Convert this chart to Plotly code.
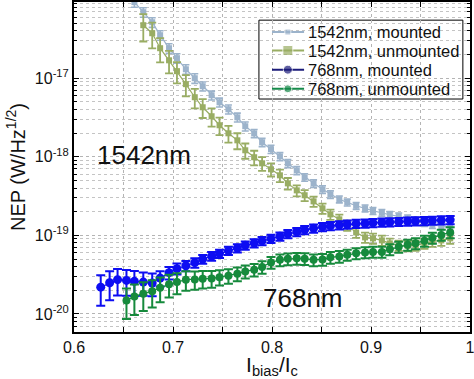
import plotly.graph_objects as go

# common bias grid (I_bias / I_c)
x_grid = [0.627, 0.636, 0.644, 0.653, 0.661, 0.670, 0.679, 0.687, 0.696, 0.704,
          0.713, 0.722, 0.730, 0.739, 0.747, 0.756, 0.765, 0.773, 0.782, 0.790,
          0.799, 0.808, 0.816, 0.825, 0.833, 0.842, 0.851, 0.859, 0.868, 0.876,
          0.885, 0.894, 0.902, 0.911, 0.919, 0.928, 0.937, 0.945, 0.954, 0.962,
          0.971, 0.980]

# 1542nm, mounted (starts at grid index 4)
nep_1542_mounted = [9.29e-17, 6.93e-17, 5.16e-17, 3.53e-17, 2.41e-17, 1.80e-17, 1.30e-17,
                    1.0e-17, 7.91e-18, 6.07e-18, 4.94e-18, 4.03e-18, 3.18e-18, 2.45e-18,
                    1.99e-18, 1.53e-18, 1.25e-18, 1.01e-18, 8.26e-19, 6.73e-19, 5.48e-19,
                    4.59e-19, 3.85e-19, 3.32e-19, 2.88e-19, 2.63e-19, 2.38e-19, 2.21e-19,
                    2.05e-19, 1.94e-19, 1.82e-19, 1.75e-19, 1.65e-19, 1.55e-19, 1.44e-19,
                    1.36e-19, 1.30e-19, 1.26e-19]
err_1542_mounted = [0.14, 0.14, 0.14, 0.14, 0.14, 0.14, 0.14, 0.14, 0.13, 0.13,
                    0.13, 0.13, 0.13, 0.13, 0.12, 0.12, 0.12, 0.12, 0.12, 0.12, 0.11,
                    0.11, 0.11, 0.11, 0.10, 0.10, 0.10, 0.10, 0.10, 0.10, 0.10, 0.10,
                    0.10, 0.10, 0.10, 0.10, 0.10, 0.10]

# 1542nm, unmounted (starts at grid index 5)
nep_1542_unmounted = [4.73e-17, 3.74e-17, 2.41e-17, 1.69e-17, 1.23e-17, 8.40e-18, 5.73e-18,
                      4.27e-18, 3.28e-18, 2.52e-18, 1.99e-18, 1.62e-18, 1.21e-18, 9.87e-19,
                      8.26e-19, 6.93e-19, 5.81e-19, 4.59e-19, 3.74e-19, 3.24e-19, 2.71e-19,
                      2.21e-19, 1.85e-19, 1.60e-19, 1.34e-19, 1.09e-19, 9.43e-20, 9.16e-20,
                      8.63e-20, 7.91e-20, 7.46e-20, 7.35e-20, 7.46e-20, 7.91e-20, 8.39e-20,
                      8.63e-20, 9.16e-20]
err_1542_unmounted = [0.38, 0.36, 0.34, 0.32, 0.30, 0.30, 0.28, 0.27, 0.26, 0.25, 0.24,
                      0.23, 0.22, 0.21, 0.20, 0.19, 0.18, 0.17, 0.16, 0.16, 0.15, 0.15,
                      0.15, 0.15, 0.15, 0.15, 0.15, 0.15, 0.15, 0.15, 0.15, 0.15, 0.15,
                      0.15, 0.15, 0.15, 0.15]

# 768nm, mounted (starts at grid index 0)
nep_768_mounted = [2.19e-20, 2.49e-20, 2.73e-20, 2.67e-20, 2.60e-20, 2.54e-20, 2.47e-20,
                   2.86e-20, 3.35e-20, 3.77e-20, 4.11e-20, 4.49e-20, 4.99e-20, 5.45e-20,
                   5.85e-20, 6.38e-20, 6.89e-20, 7.46e-20, 7.98e-20, 8.51e-20, 9.08e-20,
                   9.71e-20, 1.045e-19, 1.11e-19, 1.175e-19, 1.23e-19, 1.28e-19, 1.32e-19,
                   1.35e-19, 1.38e-19, 1.41e-19, 1.42e-19, 1.44e-19, 1.46e-19, 1.47e-19,
                   1.49e-19, 1.51e-19, 1.52e-19, 1.53e-19, 1.545e-19, 1.56e-19, 1.575e-19]
err_768_mounted = [0.42, 0.40, 0.37, 0.36, 0.35, 0.33, 0.32, 0.22, 0.18, 0.16, 0.15,
                   0.14, 0.13, 0.13, 0.12, 0.12, 0.12, 0.12, 0.12, 0.12, 0.12, 0.12,
                   0.12, 0.12, 0.12, 0.12, 0.12, 0.12, 0.12, 0.12, 0.12, 0.12, 0.12,
                   0.12, 0.12, 0.12, 0.12, 0.12, 0.12, 0.12, 0.12, 0.12]

# 768nm, unmounted (starts at grid index 3)
nep_768_unmounted = [1.486e-20, 1.67e-20, 1.81e-20, 1.95e-20, 2.16e-20, 2.38e-20, 2.54e-20,
                     2.73e-20, 2.75e-20, 2.81e-20, 2.83e-20, 2.94e-20, 3.07e-20, 3.25e-20,
                     3.48e-20, 3.66e-20, 3.97e-20, 4.53e-20, 4.88e-20, 5.02e-20, 5.10e-20,
                     5.05e-20, 4.88e-20, 4.94e-20, 5.25e-20, 5.40e-20, 5.65e-20, 5.90e-20,
                     6.07e-20, 6.16e-20, 6.16e-20, 6.64e-20, 7.14e-20, 7.57e-20, 7.91e-20,
                     8.51e-20, 9.29e-20, 1.014e-19, 1.09e-19]
err_768_unmounted = [0.42, 0.42, 0.40, 0.38, 0.35, 0.32, 0.30, 0.28, 0.26, 0.25, 0.24,
                     0.22, 0.21, 0.20, 0.19, 0.18, 0.18, 0.17, 0.17, 0.17, 0.17, 0.17,
                     0.17, 0.17, 0.17, 0.17, 0.16, 0.16, 0.16, 0.16, 0.16, 0.16, 0.16,
                     0.16, 0.16, 0.16, 0.16, 0.16, 0.16]

y_tickvals = [1e-20, 1e-19, 1e-18, 1e-17]
y_ticktext = ["10<sup>-20</sup>", "10<sup>-19</sup>", "10<sup>-18</sup>", "10<sup>-17</sup>"]
y_minor_vals = [m * d for d in [1e-21, 1e-20, 1e-19, 1e-18, 1e-17] for m in [2, 3, 4, 5, 6, 7, 8, 9]]
x_tickvals = [0.6, 0.65, 0.7, 0.75, 0.8, 0.85, 0.9, 0.95, 1.0]
x_ticktext = ["0.6", "", "0.7", "", "0.8", "", "0.9", "", "1"]

series = [
    ("1542nm, mounted", 4, nep_1542_mounted, err_1542_mounted, "#9cb3cb", "square", 6, 1.6, 3.5, "#9cb3cb", 6),
    ("1542nm, unmounted", 5, nep_1542_unmounted, err_1542_unmounted, "#99ad63", "square", 6, 1.8, 4, "#99ad63", 10),
    ("768nm, mounted", 0, nep_768_mounted, err_768_mounted, "#0d0df2", "circle", 9, 2, 4.5, "#1c1c7a", 9),
    ("768nm, unmounted", 3, nep_768_unmounted, err_768_unmounted, "#168a3c", "circle", 8, 2, 4.5, "#168a4a", 8),
]

FONT = "Liberation Sans, Arial, sans-serif"

fig = go.Figure()
for name, start, yv, ef, col, sym, ms, ew, cw, lcol, lms in series:
    xs = x_grid[start:start + len(yv)]
    errs = [v * f for v, f in zip(yv, ef)]
    fig.add_trace(go.Scatter(
        x=xs, y=yv, mode="lines+markers", name=name, showlegend=False,
        line=dict(color=col, width=1.2),
        marker=dict(symbol=sym, size=ms, color=col),
        error_y=dict(type="data", array=errs, visible=True, color=col, thickness=ew, width=cw),
    ))

# hand-drawn legend (box + samples on an overlay axis in 0..1 coordinates)
leg_x0, leg_x1, leg_y0, leg_y1 = 0.467, 0.982, 0.706, 0.945
leg_rows = [0.909, 0.853, 0.795, 0.737]
fig.add_shape(type="rect", xref="paper", yref="paper", x0=leg_x0, x1=leg_x1, y0=leg_y0, y1=leg_y1,
              line=dict(color="black", width=1), fillcolor="white", layer="between")
for (name, start, yv, ef, col, sym, ms, ew, cw, lcol, lms), ry in zip(series, leg_rows):
    fig.add_trace(go.Scatter(
        x=[0.500, 0.540, 0.581], y=[ry, ry, ry], xaxis="x2", yaxis="y2",
        mode="lines+markers", showlegend=False, hoverinfo="skip",
        line=dict(color=lcol, width=2),
        marker=dict(symbol=sym, size=[0, lms, 0], color=lcol),
    ))
    fig.add_annotation(x=0.586, y=ry, xref="paper", yref="paper", text=name, showarrow=False,
                       xanchor="left", yanchor="middle",
                       font=dict(size=16.5, color="#111111", family=FONT))

fig.add_annotation(x=0.6707, y=-17.98, xref="x", yref="y", text="1542nm", showarrow=False,
                   font=dict(size=26, color="#111111", family=FONT))
fig.add_annotation(x=0.831, y=-19.8, xref="x", yref="y", text="768nm", showarrow=False,
                   font=dict(size=26, color="#111111", family=FONT))

axis_common = dict(
    showline=True, linecolor="black", linewidth=2, mirror="ticks",
    ticks="inside", ticklen=5, tickcolor="black", tickwidth=1,
    showgrid=True, gridcolor="#b4b4b4", griddash="dot", gridwidth=1,
    zeroline=False, automargin=False, ticklabeloverflow="allow",
    tickfont=dict(size=16, color="#111111", family=FONT),
)

fig.update_layout(
    width=474, height=379,
    margin=dict(l=74, r=4, t=2, b=47),
    paper_bgcolor="white", plot_bgcolor="white",
    font=dict(family=FONT, color="#111111"),
    showlegend=False,
    xaxis=dict(axis_common, range=[0.6, 1.0], tickmode="array", tickvals=x_tickvals, ticktext=x_ticktext,
               title=dict(text="I<sub>bias</sub>/I<sub>c</sub>", font=dict(size=21), standoff=2)),
    yaxis=dict(axis_common, type="log", range=[-20.23, -16.03], tickmode="array",
               tickvals=y_tickvals, ticktext=y_ticktext,
               minor=dict(tickmode="array", tickvals=y_minor_vals, showgrid=True, gridcolor="#c4c4c4",
                          griddash="dot", ticks="inside", ticklen=3, tickcolor="black"),
               title=dict(text="NEP (W/Hz<sup>1/2</sup>)", font=dict(size=20), standoff=4)),
    xaxis2=dict(overlaying="x", range=[0, 1], visible=False, fixedrange=True),
    yaxis2=dict(overlaying="y", range=[0, 1], visible=False, fixedrange=True),
)

fig.write_html("out.html", config={"displayModeBar": False},
               post_script="document.body.style.margin='0';document.body.style.overflow='hidden';")
